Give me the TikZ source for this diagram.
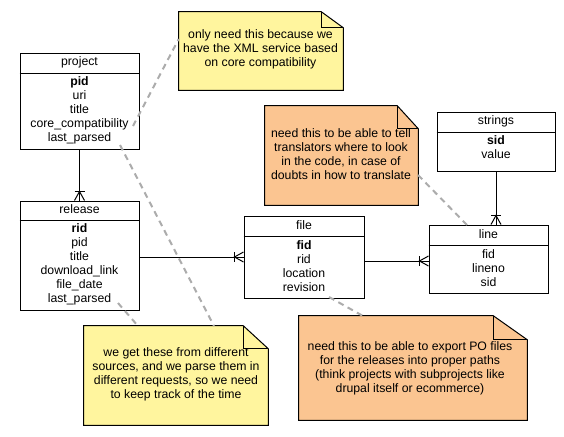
\documentclass[tikz,border=0pt]{standalone}
\usepackage{fontspec}
\setmainfont{Liberation Sans}
\usetikzlibrary{fit,calc}
\definecolor{noteyellow}{RGB}{255,245,158}
\definecolor{noteorange}{RGB}{251,197,145}
\definecolor{dashgray}{RGB}{172,172,172}
\newcommand\crowdown[1]{%
  \draw[rel] ($(#1)+(-5,-9)$) -- ++(10,0);
  \draw[rel] ($(#1)+(-5,0)$) -- ++(5,-9) -- ++(5,9);}
\newcommand\crowright[1]{%
  \draw[rel] ($(#1)+(-9,-5)$) -- ++(0,10);
  \draw[rel] ($(#1)+(0,-5)$) -- ++(-9,5) -- ++(9,5);}
\newcommand\notepaper[4]{% node, colour, fold width, fold height
  \draw[noteline,fill=#2] (#1.north west) -- ($(#1.north east)+(-#3,0)$) -- ($(#1.north east)+(0,#4)$) -- (#1.south east) -- (#1.south west) -- cycle;
  \draw[noteline] ($(#1.north east)+(-#3,0)$) -- ($(#1.north east)+(-#3,#4)$) -- ($(#1.north east)+(0,#4)$);}
\begin{document}
\begin{tikzpicture}[x=0.75pt,y=-0.75pt,
  ent/.style={draw=black,line width=0.75pt,inner sep=0pt,fill=white},
  txt/.style={inner sep=0pt,font=\fontsize{9.2}{10.5}\selectfont,align=center},
  rel/.style={draw=black,line width=0.75pt},
  noteline/.style={draw=black,line width=0.75pt},
  notelink/.style={draw=dashgray,line width=1.5pt,dash pattern=on 4.5pt off 3.5pt},
  ]
\useasboundingbox[fill=white] (0,0) rectangle (564,436);

% notes
\node[fit={(179,12) (343,90)},inner sep=0pt] (note1) {};
\notepaper{note1}{noteyellow}{22}{16}
\node[txt] (note1T) at (260.5,49.5) {only need this because we\\have the XML service based\\on core compatibility};

\node[fit={(265,106) (418,205)},inner sep=0pt] (note2) {};
\notepaper{note2}{noteorange}{21}{23}
\node[txt] (note2T) at (341,154) {need this to be able to tell\\translators where to look\\in the code, in case of\\doubts in how to translate};

\node[fit={(84,326) (268,425)},inner sep=0pt] (note3) {};
\notepaper{note3}{noteyellow}{25}{23}
\node[txt] (note3T) at (176,374) {we get these from different\\sources, and we parse them in\\different requests, so we need\\to keep track of the time};

\node[fit={(299,316) (527,420)},inner sep=0pt] (note4) {};
\notepaper{note4}{noteorange}{34}{24}
\node[txt] (note4T) at (410,368) {need this to be able to export PO files\\for the releases into proper paths\\(think projects with subprojects like\\drupal itself or ecommerce)};

% entities
\node[ent,fit={(20,53) (139,149)}] (project) {};
\draw[rel] (project.west |- 0,73) -- (project.east |- 0,73);
\node[txt] (projectT) at (79.5,62) {project};
\node[txt] (projectF) at (79.5,110.7) {\textbf{pid}\\uri\\title\\core\_compatibility\\last\_parsed};

\node[ent,fit={(20,201) (139,310)}] (release) {};
\draw[rel] (release.west |- 0,220) -- (release.east |- 0,220);
\node[txt] (releaseT) at (79.5,209.5) {release};
\node[txt] (releaseF) at (79.5,264.5) {\textbf{rid}\\pid\\title\\download\_link\\file\_date\\last\_parsed};

\node[ent,fit={(244,216) (364,298)}] (file) {};
\draw[rel] (file.west |- 0,236.5) -- (file.east |- 0,236.5);
\node[txt] (fileT) at (304,225.5) {file};
\node[txt] (fileF) at (304,266.5) {\textbf{fid}\\rid\\location\\revision};

\node[ent,fit={(429,225) (548,293)}] (line) {};
\draw[rel] (line.west |- 0,245) -- (line.east |- 0,245);
\node[txt] (lineT) at (488.5,234) {line};
\node[txt] (lineF) at (488.5,268.3) {fid\\lineno\\sid};

\node[ent,fit={(437,112) (555,171)}] (strings) {};
\draw[rel] (strings.west |- 0,132) -- (strings.east |- 0,132);
\node[txt] (stringsT) at (496,121) {strings};
\node[txt] (stringsF) at (496,147.3) {\textbf{sid}\\value};

% relations
\draw[rel] (project.south) -- (release.north);
\crowdown{release.north}

\coordinate (rfend) at (file.west);
\draw[rel] (release.east |- rfend) -- (rfend);
\crowright{rfend}

\coordinate (fl) at (0,261);
\coordinate (flend) at (line.west |- fl);
\draw[rel] (file.east |- fl) -- (flend);
\crowright{flend}

\coordinate (slend) at (strings.south |- line.north);
\draw[rel] (strings.south) -- (slend);
\crowdown{slend}

% note links
\coordinate (l1a) at (133,126); \coordinate (l1b) at (note1.west |- 0,39);
\draw[notelink] (l1a) -- (l1b);
\coordinate (l2a) at (120,145); \coordinate (l2b) at (214,326);
\draw[notelink] (l2a) -- (l2b);
\coordinate (l3a) at (118,303); \coordinate (l3b) at (138,326);
\draw[notelink] (l3a) -- (l3b);
\coordinate (l4a) at (418,175); \coordinate (l4b) at (467,225);
\draw[notelink] (l4a) -- (l4b);
\coordinate (l5a) at (329,297); \coordinate (l5b) at (363,316);
\draw[notelink] (l5a) -- (l5b);
\end{tikzpicture}
\end{document}
